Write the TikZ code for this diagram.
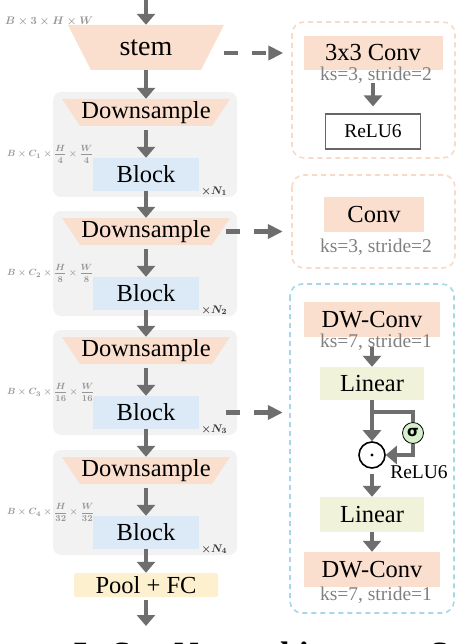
\documentclass[tikz,border=0pt]{standalone}
\usepackage{fontspec}
\setmainfont{Liberation Serif}
\newfontfamily\sigmafont{DejaVu Sans}
\usetikzlibrary{arrows.meta}
\definecolor{peach}{RGB}{250,223,207}
\definecolor{peachline}{RGB}{249,218,198}
\definecolor{blockblue}{RGB}{220,233,246}
\definecolor{stagegray}{RGB}{242,242,242}
\definecolor{poolyellow}{RGB}{253,240,206}
\definecolor{linearcol}{RGB}{240,243,218}
\definecolor{arrowgray}{RGB}{110,110,110}
\definecolor{skyline}{RGB}{166,214,234}
\definecolor{siggreen}{RGB}{214,240,205}
\definecolor{ksgray}{RGB}{128,128,128}
\definecolor{dimgray}{RGB}{150,150,150}

\begin{document}
\begin{tikzpicture}[x=1pt,y=-1pt,
  big/.style={font=\fontsize{24.5}{28}\selectfont, inner sep=0pt},
  small/.style={font=\fontsize{19.5}{22}\selectfont, text=ksgray, inner sep=0pt},
  dims/.style={font=\fontsize{9.5}{12}\selectfont\boldmath, text=dimgray, inner sep=0pt},
  reps/.style={font=\fontsize{11}{12}\selectfont\boldmath, text=black!80, inner sep=0pt},
  flow/.style={draw=arrowgray, line width=4.5pt, -{Triangle[length=11pt,width=18pt]}},
  link/.style={draw=arrowgray, line width=4.5pt},
  dflow/.style={draw=arrowgray, line width=4.5pt, dash pattern=on 14pt off 14pt, -{Triangle[length=15pt,width=14pt]}},
  panel/.style={line width=1.6pt, dash pattern=on 5pt off 4pt, rounded corners=12pt}]
\useasboundingbox (0,0) rectangle (470,644);

% stem
\fill[peach] (68,25) -- (224,25) -- (201,70) -- (91,70) -- cycle;
\node[big, font=\fontsize{28}{32}\selectfont, minimum width=156pt, minimum height=45pt] (stem) at (146,47.5) {stem};
\node[dims, font=\fontsize{10.5}{12}\selectfont\boldmath, anchor=west] (lab0) at (5,21) {$B\times3\times H\times W$};
\coordinate (in) at (146,0);

% stages
\fill[stagegray, rounded corners=8pt] (53,92) rectangle (237,197);
\fill[stagegray, rounded corners=8pt] (53,211) rectangle (237,316);
\fill[stagegray, rounded corners=8pt] (53,330) rectangle (237,435);
\fill[stagegray, rounded corners=8pt] (53,450) rectangle (237,555);

\fill[peach] (62,99) -- (230,99) -- (212,126) -- (80,126) -- cycle;
\fill[peach] (62,218) -- (230,218) -- (212,245) -- (80,245) -- cycle;
\fill[peach] (62,337) -- (230,337) -- (212,364) -- (80,364) -- cycle;
\fill[peach] (62,457) -- (230,457) -- (212,484) -- (80,484) -- cycle;
\node[big, minimum width=168pt, minimum height=27pt] (ds1) at (146,112.5) {Downsample};
\node[big, minimum width=168pt, minimum height=27pt] (ds2) at (146,231.5) {Downsample};
\node[big, minimum width=168pt, minimum height=27pt] (ds3) at (146,350.5) {Downsample};
\node[big, minimum width=168pt, minimum height=27pt] (ds4) at (146,470.5) {Downsample};

\node[big, fill=blockblue, minimum width=106pt, minimum height=33pt] (blk1) at (146,174.5) {Block};
\node[big, fill=blockblue, minimum width=106pt, minimum height=33pt] (blk2) at (146,293.5) {Block};
\node[big, fill=blockblue, minimum width=106pt, minimum height=33pt] (blk3) at (146,412.5) {Block};
\node[big, fill=blockblue, minimum width=106pt, minimum height=33pt] (blk4) at (146,532.5) {Block};

\node[reps, anchor=west] (rep1) at ([xshift=2pt]blk1.south east) {$\times N_1$};
\node[reps, anchor=west] (rep2) at ([xshift=2pt]blk2.south east) {$\times N_2$};
\node[reps, anchor=west] (rep3) at ([xshift=2pt]blk3.south east) {$\times N_3$};
\node[reps, anchor=west] (rep4) at ([xshift=2pt]blk4.south east) {$\times N_4$};

\node[dims, anchor=west] (lab1) at (7,154) {$\displaystyle B\times C_1\times\frac{H}{4}\times\frac{W}{4}$};
\node[dims, anchor=west] (lab2) at (7,273) {$\displaystyle B\times C_2\times\frac{H}{8}\times\frac{W}{8}$};
\node[dims, anchor=west] (lab3) at (7,392) {$\displaystyle B\times C_3\times\frac{H}{16}\times\frac{W}{16}$};
\node[dims, anchor=west] (lab4) at (7,512) {$\displaystyle B\times C_4\times\frac{H}{32}\times\frac{W}{32}$};

\node[big, fill=poolyellow, rounded corners=2pt, minimum width=144pt, minimum height=24pt] (pool) at (146,585) {Pool + FC};
\coordinate (out) at (146,626);

\draw[flow] (in) -- (stem.north);
\draw[flow] (stem.south) -- (ds1.north);
\draw[flow, shorten <=4pt] (ds1.south) -- (blk1.north);
\draw[flow] (blk1.south) -- (ds2.north);
\draw[flow, shorten <=4pt] (ds2.south) -- (blk2.north);
\draw[flow] (blk2.south) -- (ds3.north);
\draw[flow, shorten <=4pt] (ds3.south) -- (blk3.north);
\draw[flow] (blk3.south) -- (ds4.north);
\draw[flow, shorten <=4pt] (ds4.south) -- (blk4.north);
\draw[flow] (blk4.south) -- (pool.north);
\draw[flow, shorten <=3pt] (pool.south) -- (out);

% stem detail
\draw[panel, draw=peachline] (292,22) rectangle (455,158);
\node[big, fill=peach, minimum width=139pt, minimum height=34pt] (k3) at (373,53) {3x3 Conv};
\node[small] (ks1) at (376,75) {ks=3, stride=2};
\node[font=\fontsize{19.5}{22}\selectfont, draw=black!60, line width=1.2pt, fill=white, minimum width=95pt, minimum height=35pt, inner sep=0pt] (relu1) at (373,131.5) {ReLU6};
\draw[flow, shorten <=13pt, shorten >=7pt] (k3.south) -- (relu1.north);

% downsample detail
\draw[panel, draw=peachline] (292,175) rectangle (455,268);
\node[big, fill=peach, minimum width=100pt, minimum height=35pt] (cv) at (374,214.5) {Conv};
\node[small] (ks2) at (376,247) {ks=3, stride=2};

% block detail
\draw[panel, draw=skyline] (290,284) rectangle (454,613);
\node[big, fill=peach, minimum width=136pt, minimum height=35pt] (dw1) at (372,319.5) {DW-Conv};
\node[small] (ks3) at (376,342) {ks=7, stride=1};
\node[big, fill=linearcol, minimum width=104pt, minimum height=33pt] (lin1) at (372,383.5) {Linear};
\node[circle, draw, fill=white, line width=1.6pt, minimum size=26pt, inner sep=0pt] (star) at (372,455) {};
\fill (star.center) circle [radius=1.6pt];
\node[circle, draw, fill=siggreen, line width=0.8pt, minimum size=21pt, inner sep=0pt, font=\sigmafont\bfseries\fontsize{15}{15}\selectfont] (sig) at (413,433) {σ};
\node[font=\fontsize{19.5}{22}\selectfont, inner sep=0pt] (relu2) at (419,472) {ReLU6};
\node[big, fill=linearcol, minimum width=104pt, minimum height=35pt] (lin2) at (372,514.5) {Linear};
\node[big, fill=peach, minimum width=136pt, minimum height=35pt] (dw2) at (372,569.5) {DW-Conv};
\node[small] (ks4) at (376,595) {ks=7, stride=1};
\coordinate (fork) at (372,412);

\draw[flow, shorten <=10pt] (dw1.south) -- (lin1.north);
\draw[flow] (lin1.south) -- (star.north);
\draw[link] (fork) -| (sig.north);
\draw[flow] (sig.south) |- (star.east);
\draw[flow, shorten <=5pt] (star.south) -- (lin2.north);
\draw[flow] (lin2.south) -- (dw2.north);

% links to details
\draw[dflow, shorten >=20pt] (stem.east |- k3.west) -- (k3.west);
\draw[dflow, shorten <=-4pt, shorten >=41pt] (ds2.east) -- (ds2.east -| cv.west);
\draw[dflow, shorten <=27pt, shorten >=21pt] (blk3.east) -- (blk3.east -| dw1.west);

% caption
\node[font=\fontsize{34}{40}\selectfont\bfseries, anchor=base west, inner sep=0pt] (cap) at (72,665) {5: StarNet architecture. S};
\end{tikzpicture}
\end{document}
